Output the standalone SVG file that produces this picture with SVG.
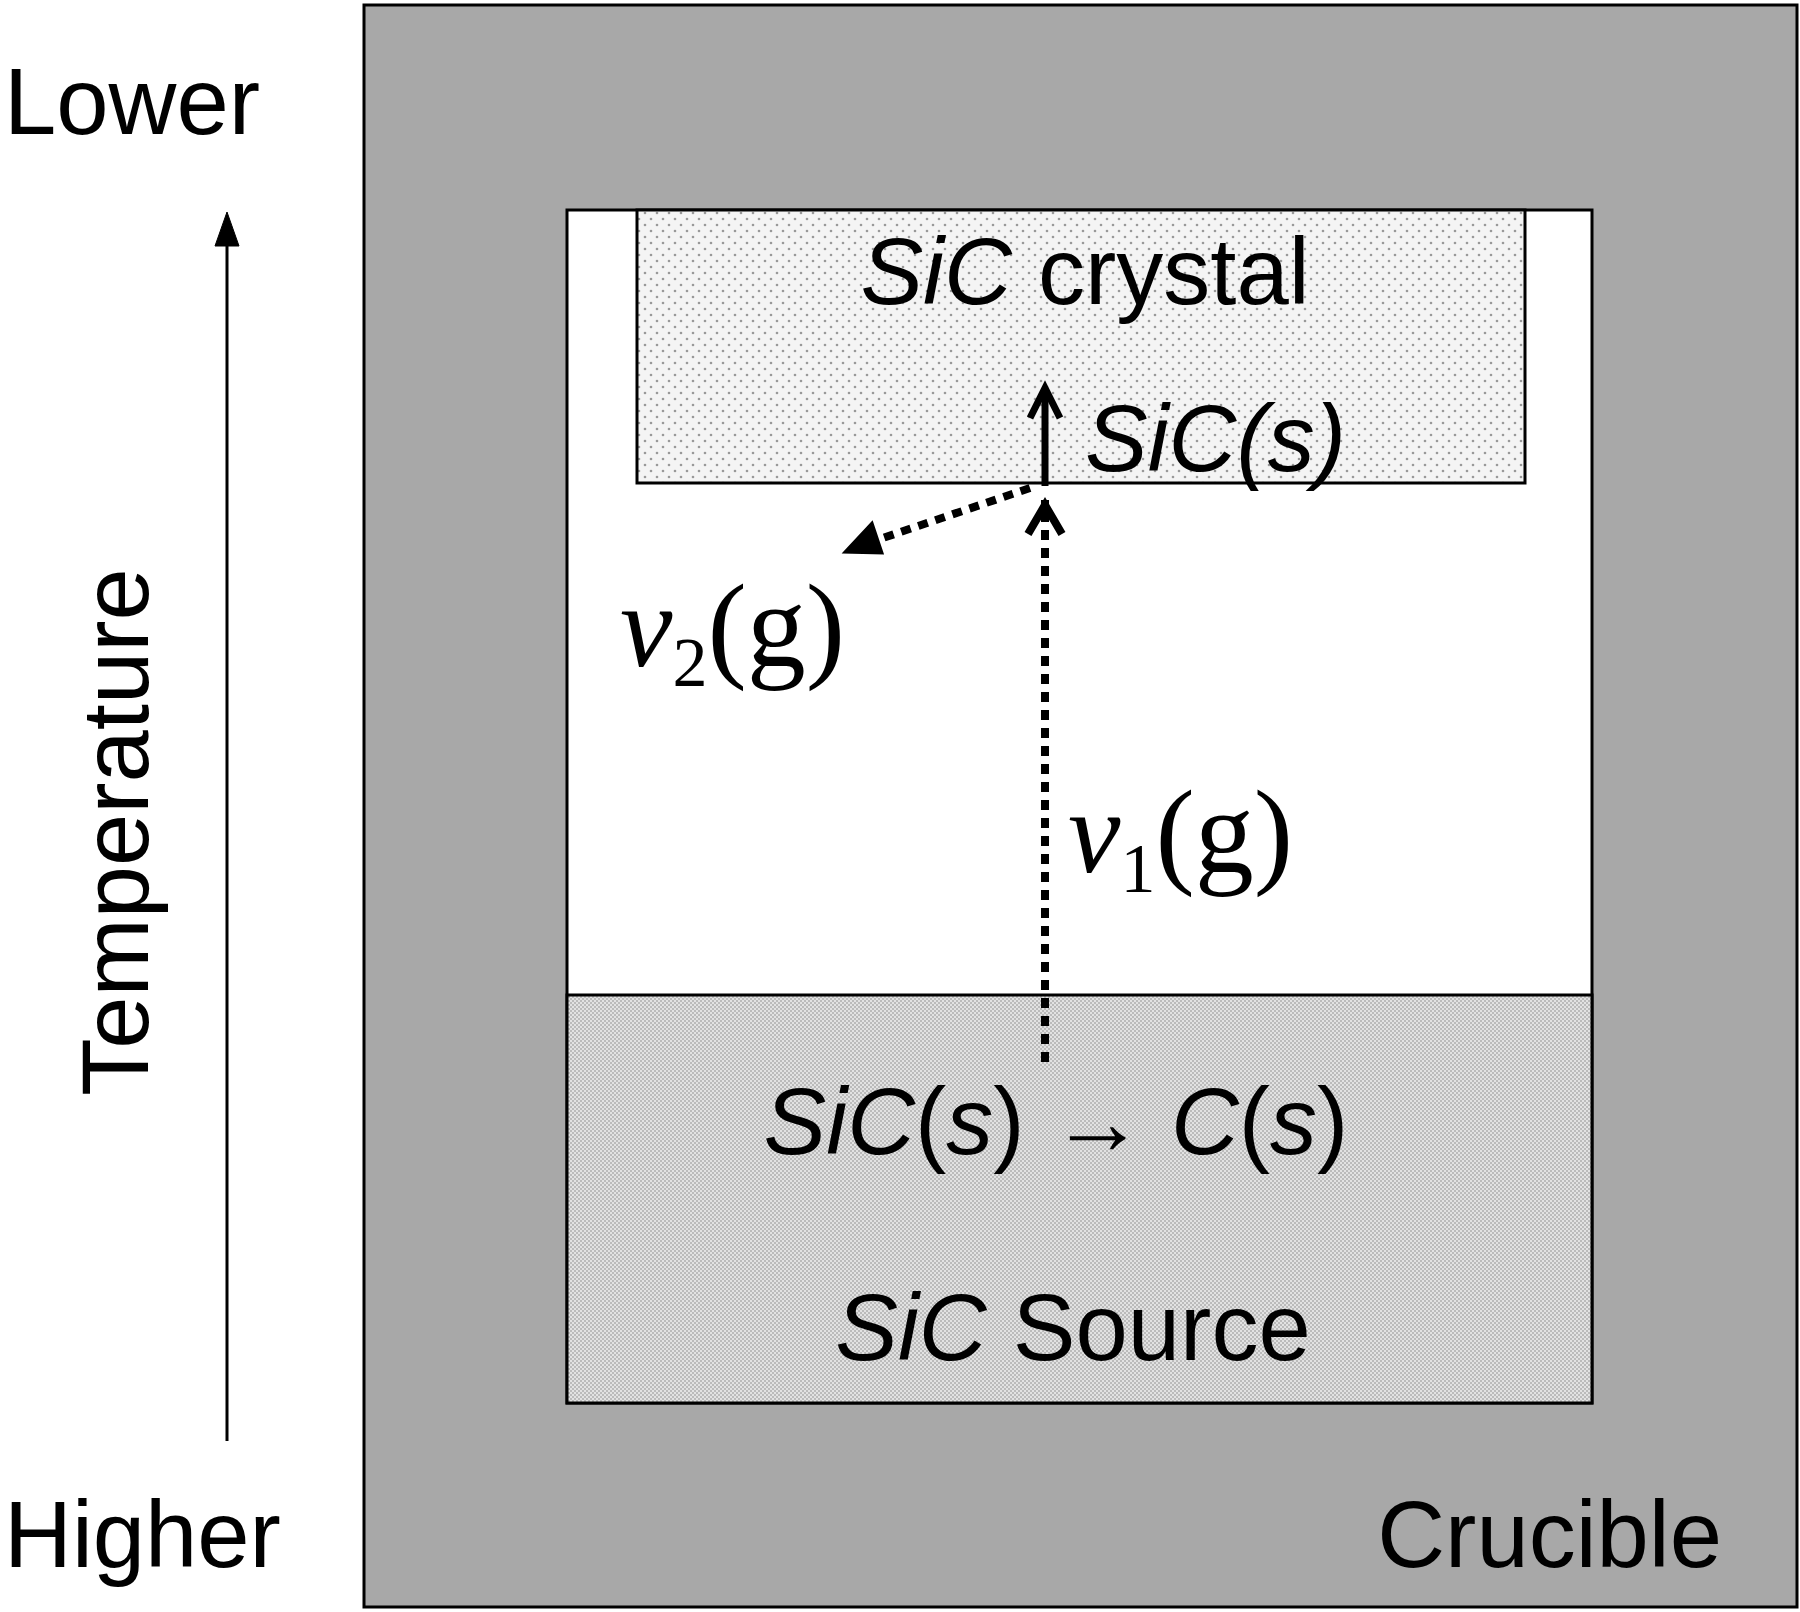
<svg xmlns="http://www.w3.org/2000/svg" width="1800" height="1612" viewBox="0 0 1800 1612">
<style>
.s{font-family:"Liberation Sans",Arial,sans-serif;font-size:94px;fill:#000}
.t{font-family:"Liberation Serif","Times New Roman",serif;font-size:118px;fill:#000}
.i{font-style:italic}
</style>
<defs>
<pattern id="dots" width="12" height="12" patternUnits="userSpaceOnUse"><rect width="12" height="12" fill="#f4f4f4"/><circle cx="3" cy="3" r="1.3" fill="#999"/><circle cx="9" cy="9" r="1.3" fill="#999"/></pattern>
<pattern id="hatch" width="4" height="4" patternUnits="userSpaceOnUse"><rect width="4" height="4" fill="#e2e2e2"/><rect width="2" height="2" fill="#bbb"/><rect x="2" y="2" width="2" height="2" fill="#bbb"/></pattern>
<marker id="ah" markerWidth="10" markerHeight="10" refX="9" refY="5" orient="auto" markerUnits="userSpaceOnUse" viewBox="0 0 10 10"><path d="M0,0 L10,5 L0,10 Z" fill="#000"/></marker>
</defs>
<g id="crucible"><rect x="364" y="5" width="1433" height="1602" fill="#a8a8a8" stroke="#000" stroke-width="3"/>
<text class="s" x="1722" y="1567" text-anchor="end">Crucible</text></g>
<g id="chamber"><rect x="567" y="210" width="1025" height="1193" fill="#fff" stroke="#000" stroke-width="3"/></g>
<g id="crystal"><rect x="637" y="210" width="888" height="273" fill="url(#dots)" stroke="#000" stroke-width="3"/>
<text class="s" x="1085" y="304" text-anchor="middle"><tspan class="i">SiC</tspan> crystal</text>
<text class="s i" x="1085" y="471">SiC(s)</text></g>
<g id="source"><rect x="567" y="995" width="1025" height="408" fill="url(#hatch)" stroke="#000" stroke-width="3"/>
<text class="s" x="1056" y="1154" text-anchor="middle"><tspan class="i">SiC</tspan>(<tspan class="i">s</tspan>) → <tspan class="i">C</tspan>(<tspan class="i">s</tspan>)</text>
<text class="s" x="1073" y="1360" text-anchor="middle"><tspan class="i">SiC</tspan> Source</text></g>
<g id="axis">
<text class="s" x="4" y="134">Lower</text>
<text class="s" x="4" y="1567">Higher</text>
<text class="s" transform="translate(148,832) rotate(-90)" text-anchor="middle">Temperature</text></g>
<g id="labels">
<text class="t" x="620" y="666"><tspan class="i">v</tspan><tspan font-size="70" dy="20">2</tspan><tspan dy="-20">(g)</tspan></text>
<text class="t" x="1068" y="872"><tspan class="i">v</tspan><tspan font-size="70" dy="20">1</tspan><tspan dy="-20">(g)</tspan></text></g>
<g id="connectors" fill="none" stroke="#000">
<line x1="227" y1="1441" x2="227" y2="222" stroke-width="3" marker-end="url(#ah)"/>
<path d="M227,212 L215,246 L239,246 Z" fill="#000"/>
<line x1="1045" y1="1062" x2="1045" y2="500" stroke-width="8" stroke-dasharray="10,8"/>
<polyline points="1028,534 1045,505 1062,534" stroke-width="8"/>
<line x1="1045" y1="486" x2="1045" y2="396" stroke-width="7"/>
<polyline points="1030,418 1045,388 1060,418" stroke-width="7"/>
<line x1="1030" y1="488" x2="880" y2="539" stroke-width="8" stroke-dasharray="10,8"/>
<path d="M845,552 L872,523 L882,553 Z" fill="#000" stroke-width="3"/>
</g>
</svg>
